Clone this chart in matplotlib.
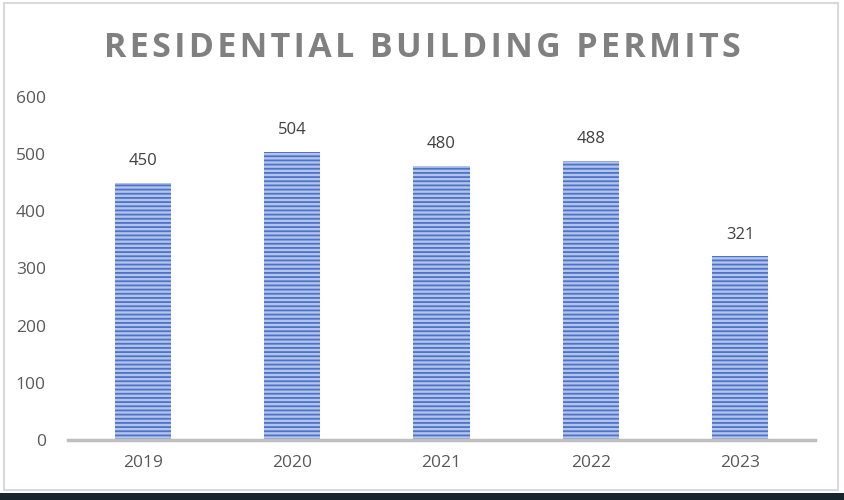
import matplotlib.pyplot as plt
from matplotlib.patches import Rectangle

plt.rcParams["font.family"] = ["Open Sans", "DejaVu Sans"]
plt.rcParams["hatch.linewidth"] = 1.3

title = "RESIDENTIAL BUILDING PERMITS"
years = ["2019", "2020", "2021", "2022", "2023"]
permits = [450, 504, 480, 488, 321]
yticks = [0, 100, 200, 300, 400, 500, 600]

fig = plt.figure(figsize=(8.45, 5), dpi=100)

# chart frame and the dark strip at the bottom of the screenshot
fig.patches.append(Rectangle((4 / 845, 1 - 490 / 500), 834 / 845, 487 / 500,
                             transform=fig.transFigure, fill=False,
                             edgecolor="#d9d9d9", linewidth=1.5))
fig.patches.append(Rectangle((0, 0), 1, 7 / 500, transform=fig.transFigure,
                             facecolor="#17262d", edgecolor="none"))

ax = fig.add_axes([68 / 845, 60 / 500, 747 / 845, 343 / 500])
x = range(len(years))
bars = ax.bar(x, permits, width=0.375, color="#b3c4ea", edgecolor="#4d72c9",
              linewidth=0, hatch="----")

for xi, v in zip(x, permits):
    ax.annotate(str(v), (xi, v), xytext=(0, 10), textcoords="offset points",
                ha="center", va="bottom", fontsize=12, color="#404040")

ax.set_xlim(-0.5, len(years) - 0.5)
ax.set_ylim(0, 600)
ax.set_yticks(yticks)
ax.set_xticks(list(x))
ax.set_xticklabels(years)
ax.tick_params(axis="both", length=0, labelsize=12.5, labelcolor="#595959")
ax.tick_params(axis="y", pad=16)
ax.tick_params(axis="x", pad=11)

for s in ["top", "right", "left"]:
    ax.spines[s].set_visible(False)
ax.spines["bottom"].set_color("#bfbfbf")
ax.spines["bottom"].set_linewidth(2.5)

# spaced-out title, like the letter spacing in the original
spaced = "\u200a".join(title)
fig.text(0.5, 1 - 48 / 500, spaced, ha="center", va="center", fontsize=24.5,
         fontweight="bold", color="#808080")

plt.savefig("out.png", dpi=100)
